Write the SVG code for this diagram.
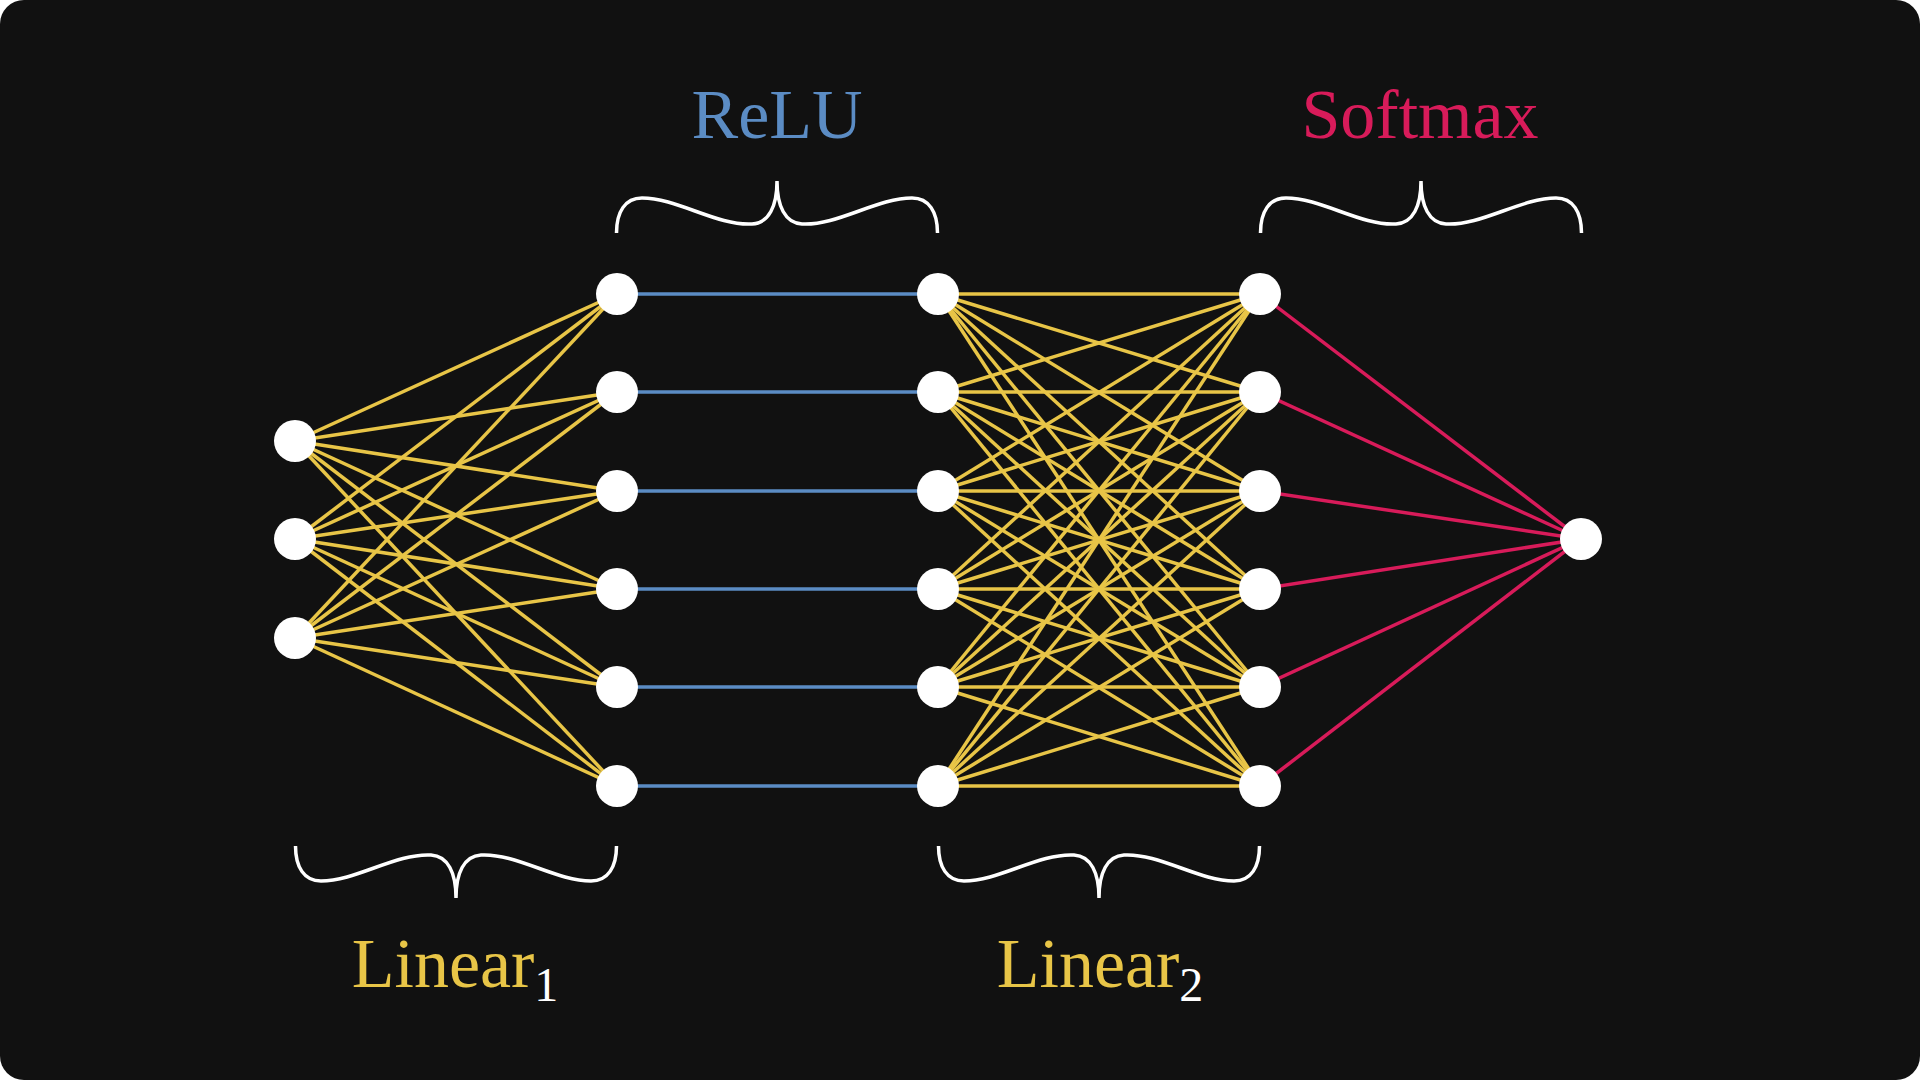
<svg xmlns="http://www.w3.org/2000/svg" xmlns:xlink="http://www.w3.org/1999/xlink" width="1920" height="1080" viewBox="0 0 1920 1080">
<style>
.y{stroke:#e8c547;stroke-width:3.5}
.b{stroke:#5b8cc4;stroke-width:3.5}
.r{stroke:#d81b5a;stroke-width:3.5}
.n{fill:#ffffff}
.br{fill:none;stroke:#ffffff;stroke-width:3.5}
.t{font-family:"Liberation Serif",serif;font-size:70px;text-anchor:middle}
</style>
<defs>
<path id="brace" d="M -160.5 52 C -160.5 31 -152 17 -135 17 C -100 17 -60 45 -25 43 C -8 42 0 25 0 0 C 0 25 8 42 25 43 C 60 45 100 17 135 17 C 152 17 160.5 31 160.5 52"/>
</defs>
<rect x="0" y="0" width="1920" height="1080" rx="24" fill="#111111"/>
<g id="connectors">
<g class="y">
<line x1="295" y1="441" x2="617" y2="294"/><line x1="295" y1="441" x2="617" y2="392"/><line x1="295" y1="441" x2="617" y2="491"/><line x1="295" y1="441" x2="617" y2="589"/><line x1="295" y1="441" x2="617" y2="687"/><line x1="295" y1="441" x2="617" y2="786"/>
<line x1="295" y1="539" x2="617" y2="294"/><line x1="295" y1="539" x2="617" y2="392"/><line x1="295" y1="539" x2="617" y2="491"/><line x1="295" y1="539" x2="617" y2="589"/><line x1="295" y1="539" x2="617" y2="687"/><line x1="295" y1="539" x2="617" y2="786"/>
<line x1="295" y1="638" x2="617" y2="294"/><line x1="295" y1="638" x2="617" y2="392"/><line x1="295" y1="638" x2="617" y2="491"/><line x1="295" y1="638" x2="617" y2="589"/><line x1="295" y1="638" x2="617" y2="687"/><line x1="295" y1="638" x2="617" y2="786"/>
</g>
<g class="b">
<line x1="617" y1="294" x2="938" y2="294"/><line x1="617" y1="392" x2="938" y2="392"/><line x1="617" y1="491" x2="938" y2="491"/><line x1="617" y1="589" x2="938" y2="589"/><line x1="617" y1="687" x2="938" y2="687"/><line x1="617" y1="786" x2="938" y2="786"/>
</g>
<g class="y">
<line x1="938" y1="294" x2="1260" y2="294"/><line x1="938" y1="294" x2="1260" y2="392"/><line x1="938" y1="294" x2="1260" y2="491"/><line x1="938" y1="294" x2="1260" y2="589"/><line x1="938" y1="294" x2="1260" y2="687"/><line x1="938" y1="294" x2="1260" y2="786"/>
<line x1="938" y1="392" x2="1260" y2="294"/><line x1="938" y1="392" x2="1260" y2="392"/><line x1="938" y1="392" x2="1260" y2="491"/><line x1="938" y1="392" x2="1260" y2="589"/><line x1="938" y1="392" x2="1260" y2="687"/><line x1="938" y1="392" x2="1260" y2="786"/>
<line x1="938" y1="491" x2="1260" y2="294"/><line x1="938" y1="491" x2="1260" y2="392"/><line x1="938" y1="491" x2="1260" y2="491"/><line x1="938" y1="491" x2="1260" y2="589"/><line x1="938" y1="491" x2="1260" y2="687"/><line x1="938" y1="491" x2="1260" y2="786"/>
<line x1="938" y1="589" x2="1260" y2="294"/><line x1="938" y1="589" x2="1260" y2="392"/><line x1="938" y1="589" x2="1260" y2="491"/><line x1="938" y1="589" x2="1260" y2="589"/><line x1="938" y1="589" x2="1260" y2="687"/><line x1="938" y1="589" x2="1260" y2="786"/>
<line x1="938" y1="687" x2="1260" y2="294"/><line x1="938" y1="687" x2="1260" y2="392"/><line x1="938" y1="687" x2="1260" y2="491"/><line x1="938" y1="687" x2="1260" y2="589"/><line x1="938" y1="687" x2="1260" y2="687"/><line x1="938" y1="687" x2="1260" y2="786"/>
<line x1="938" y1="786" x2="1260" y2="294"/><line x1="938" y1="786" x2="1260" y2="392"/><line x1="938" y1="786" x2="1260" y2="491"/><line x1="938" y1="786" x2="1260" y2="589"/><line x1="938" y1="786" x2="1260" y2="687"/><line x1="938" y1="786" x2="1260" y2="786"/>
</g>
<g class="r">
<line x1="1260" y1="294" x2="1581" y2="539"/><line x1="1260" y1="392" x2="1581" y2="539"/><line x1="1260" y1="491" x2="1581" y2="539"/><line x1="1260" y1="589" x2="1581" y2="539"/><line x1="1260" y1="687" x2="1581" y2="539"/><line x1="1260" y1="786" x2="1581" y2="539"/>
</g>
</g>
<g id="input" class="n"><circle cx="295" cy="441" r="21"/><circle cx="295" cy="539" r="21"/><circle cx="295" cy="638" r="21"/></g>
<g id="hidden1" class="n"><circle cx="617" cy="294" r="21"/><circle cx="617" cy="392" r="21"/><circle cx="617" cy="491" r="21"/><circle cx="617" cy="589" r="21"/><circle cx="617" cy="687" r="21"/><circle cx="617" cy="786" r="21"/></g>
<g id="hidden2" class="n"><circle cx="938" cy="294" r="21"/><circle cx="938" cy="392" r="21"/><circle cx="938" cy="491" r="21"/><circle cx="938" cy="589" r="21"/><circle cx="938" cy="687" r="21"/><circle cx="938" cy="786" r="21"/></g>
<g id="hidden3" class="n"><circle cx="1260" cy="294" r="21"/><circle cx="1260" cy="392" r="21"/><circle cx="1260" cy="491" r="21"/><circle cx="1260" cy="589" r="21"/><circle cx="1260" cy="687" r="21"/><circle cx="1260" cy="786" r="21"/></g>
<g id="output" class="n"><circle cx="1581" cy="539" r="21"/></g>
<g id="braces" class="br">
<use xlink:href="#brace" transform="translate(777,181)"/>
<use xlink:href="#brace" transform="translate(1421,181)"/>
<use xlink:href="#brace" transform="translate(456,898) scale(1,-1)"/>
<use xlink:href="#brace" transform="translate(1099,898) scale(1,-1)"/>
</g>
<g id="labels">
<text class="t" x="777" y="138" fill="#5b8cc4">ReLU</text>
<text class="t" x="1420" y="138" fill="#d81b5a">Softmax</text>
<text class="t" x="455" y="987" fill="#e8c547">Linear<tspan font-size="48" dy="14" fill="#ffffff">1</tspan></text>
<text class="t" x="1100" y="987" fill="#e8c547">Linear<tspan font-size="48" dy="14" fill="#ffffff">2</tspan></text>
</g>
</svg>
